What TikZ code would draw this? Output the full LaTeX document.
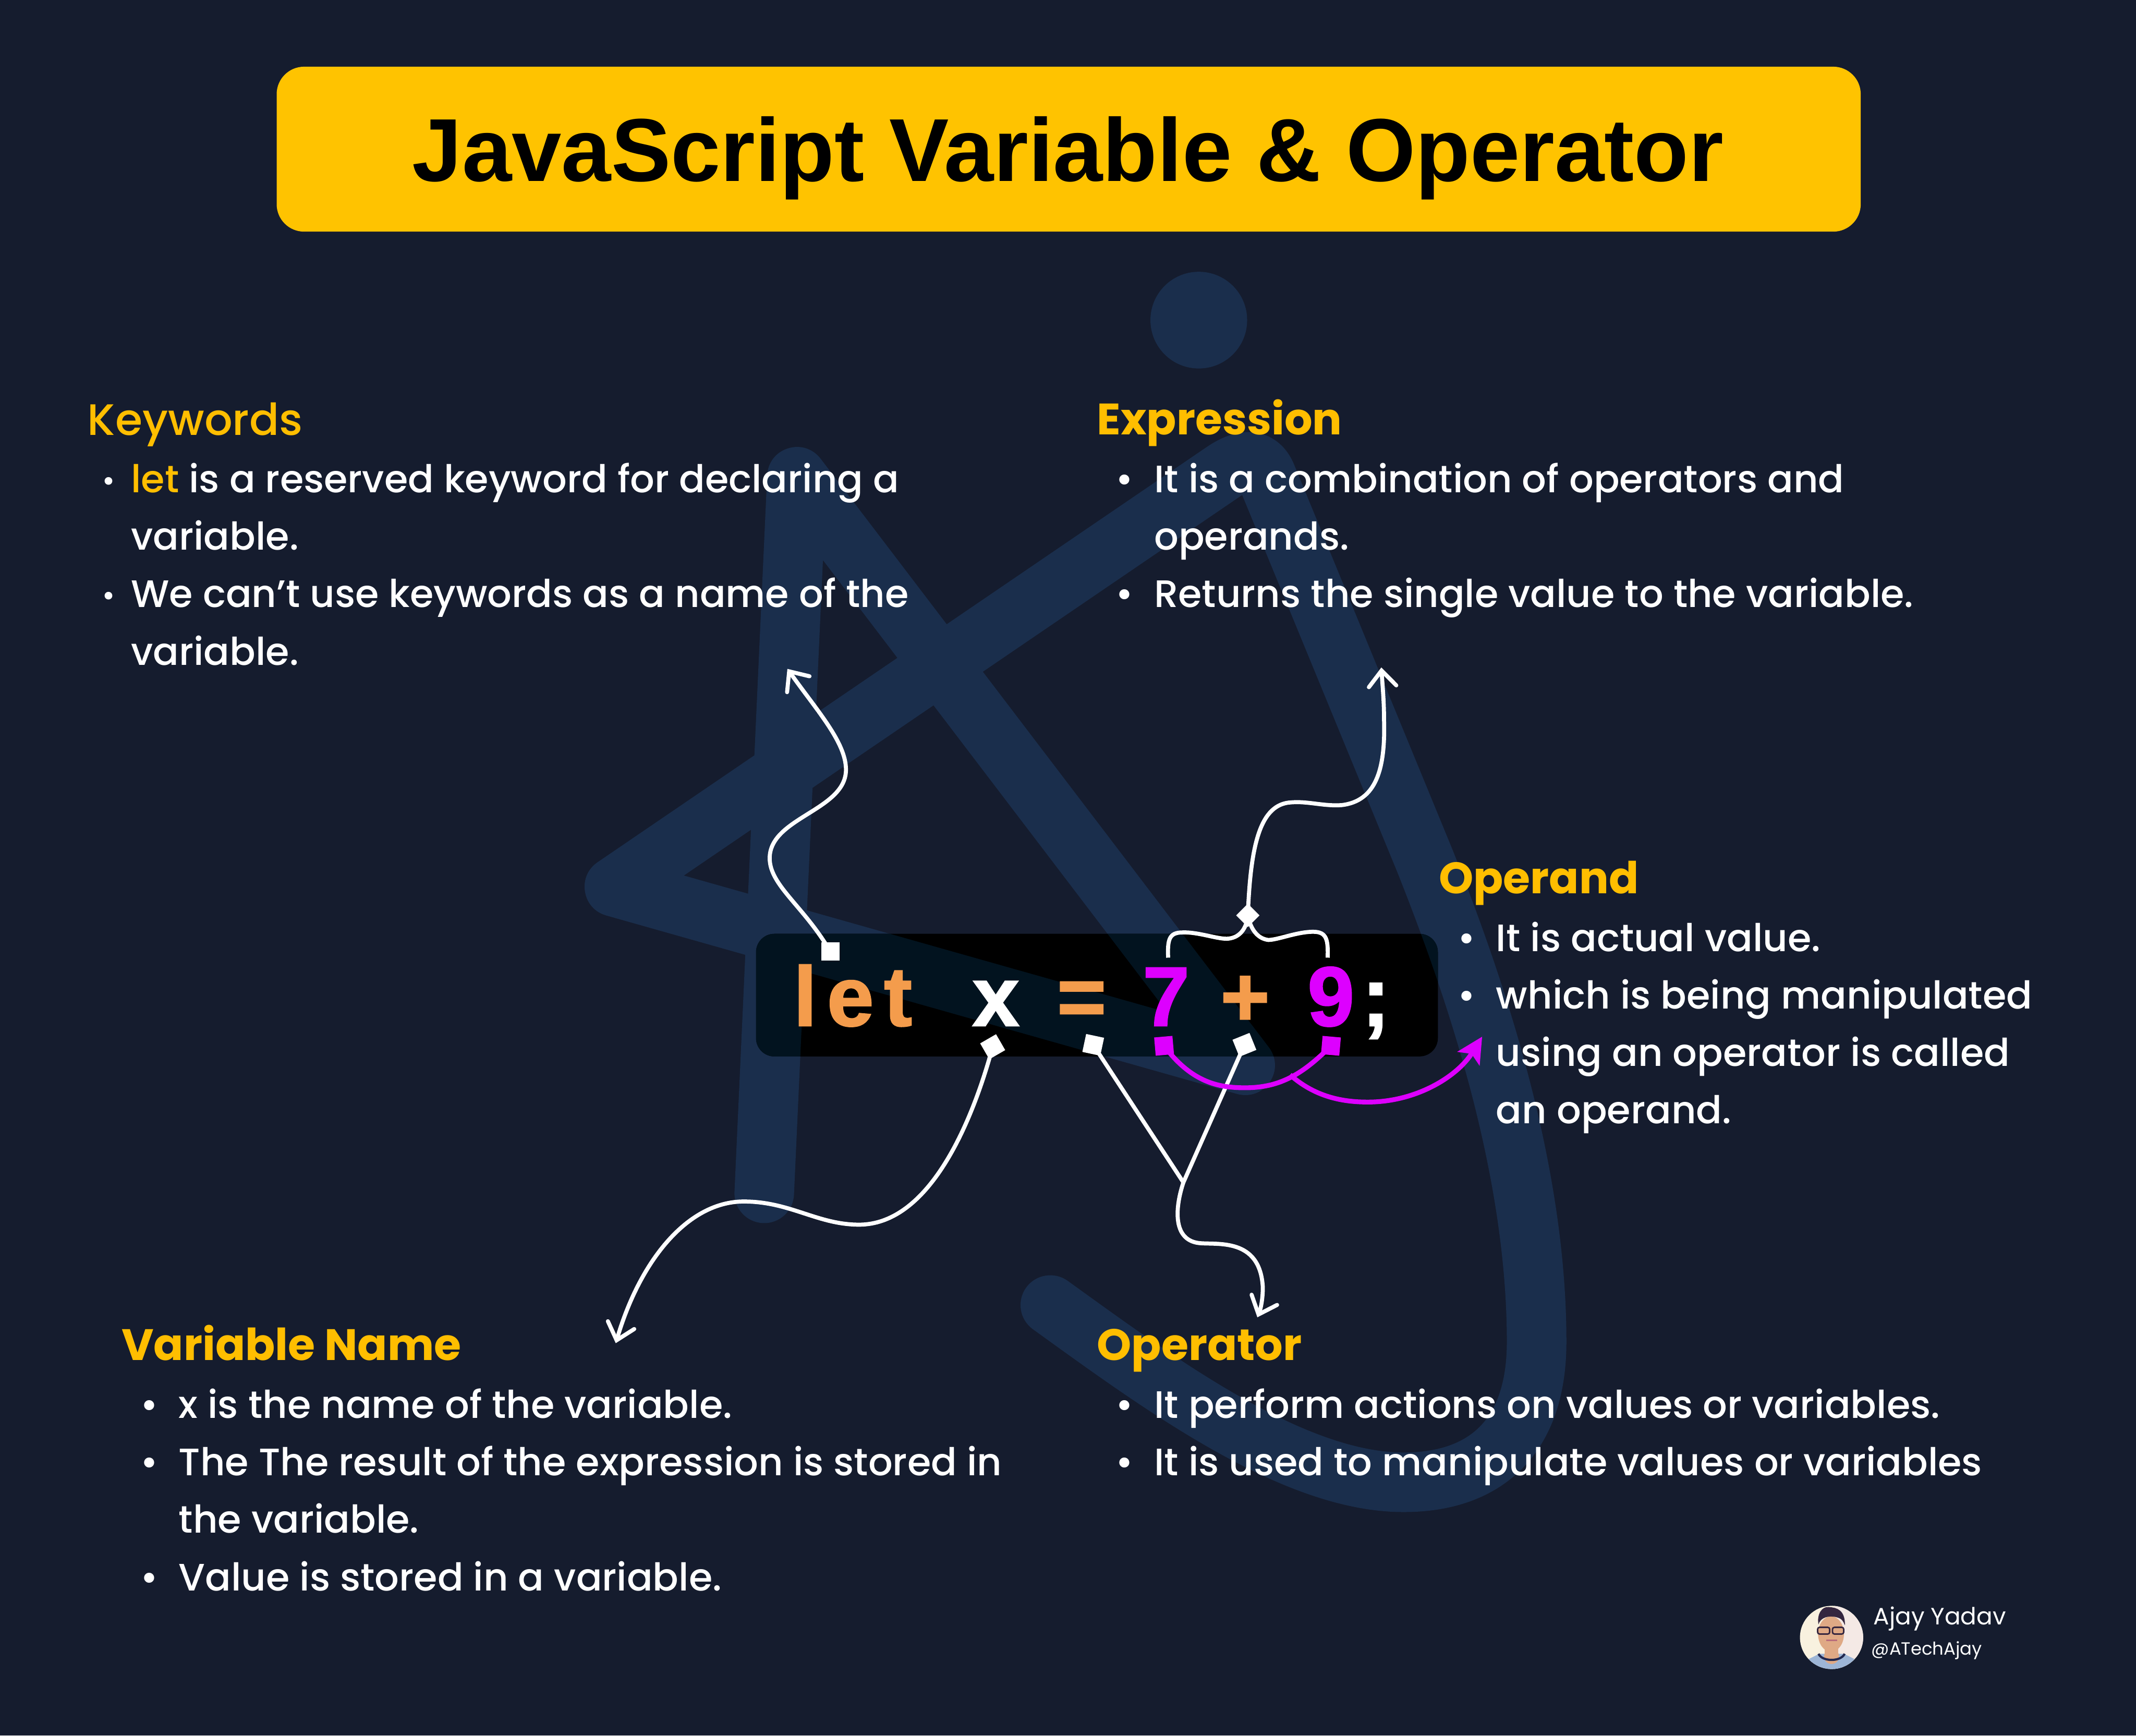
\documentclass[tikz,border=0pt]{standalone}
\usepackage{fontspec}
\usetikzlibrary{arrows.meta}
\setmainfont{Poppins}
\newfontfamily\popmed{Poppins Medium}
\newfontfamily\popsemi{Poppins SemiBold}
\newfontfamily\titlefont{Liberation Sans}
\newfontfamily\codefont{Liberation Sans Bold}[FakeBold=1.6]
\definecolor{bgc}{HTML}{151C2E}
\definecolor{logoc}{HTML}{1A2E4C}
\definecolor{logod}{HTML}{02131F}
\definecolor{titlec}{HTML}{FFC300}
\definecolor{gold}{HTML}{FFBE00}
\definecolor{ora}{HTML}{F49C4C}
\definecolor{mag}{HTML}{DD00FF}
\definecolor{avl}{HTML}{F8F1DF}
\definecolor{avr}{HTML}{F4E9E5}
\definecolor{avshirt}{HTML}{9DB5D6}
\definecolor{avskin}{HTML}{DFA985}
\definecolor{avnavy}{HTML}{222850}
\definecolor{avhair}{HTML}{35263F}
\definecolor{avlip}{HTML}{B86C7A}
\newcommand{\logopath}{(561,876) -- (585,350) -- (914,782) -- (451,651) -- (897,347) .. controls (907,340) and (923,332) .. (930,350) -- (1046,632) .. controls (1085,730) and (1128,860) .. (1128,985) .. controls (1128,1060) and (1085,1090) .. (1025,1088) .. controls (945,1085) and (850,1015) .. (771,958)}
\tikzset{x=0.026122cm,y=-0.026122cm,
 logostroke/.style={line width=32.5pt,line join=round,line cap=round},
 bodytext/.style={anchor=base west,text=white,inner sep=0pt,font=\fontsize{20.87}{20.87}\selectfont\popmed},
 bul/.style={anchor=base,text=white,inner sep=0pt,font=\fontsize{20.87}{20.87}\selectfont\popmed},
 headbold/.style={anchor=base west,text=gold,inner sep=0pt,font=\fontsize{24}{24}\selectfont\bfseries},
 headmed/.style={anchor=base west,text=gold,inner sep=0pt,font=\fontsize{24}{24}\selectfont\popmed},
 codetok/.style={anchor=base,inner sep=0pt,font=\fontsize{46}{46}\selectfont\codefont},
 pin/.style={rectangle,fill=white,inner sep=0pt,minimum size=10pt},
 magpin/.style={rectangle,fill=mag,inner sep=0pt,minimum size=10pt},
 wline/.style={draw=white,line width=2.2pt},
 warrow/.style={wline,-{Straight Barb[length=8.6pt,width=15pt,line cap=round]}},
 mline/.style={draw=mag,line width=2.6pt},
 foot/.style={anchor=base west,text=white,inner sep=0pt}}
\begin{document}
\begin{tikzpicture}
\useasboundingbox (0,0) rectangle (1568,1274);
\fill[bgc] (0,0) rectangle (1568,1274);
% background logo
\draw[logoc,logostroke] \logopath;
\fill[logoc] (880,235) circle (35.5);
% title
\node[rectangle,fill=titlec,rounded corners=15pt,minimum width=864.3pt,minimum height=90pt,inner sep=0pt] (titlebox) at (784.5,109.5) {};
\node[anchor=base,inner sep=0pt,text=black,font=\fontsize{48.75}{48.75}\selectfont\titlefont\bfseries] (titletext) at (784,133) {JavaScript Variable \& Operator};
% code box
\fill[black,rounded corners=10pt] (555,685.5) rectangle (1055.5,775.5);
\begin{scope}
\clip[rounded corners=10pt] (555,685.5) rectangle (1055.5,775.5);
\draw[logod,logostroke] \logopath;
\end{scope}
\node[codetok,text=ora] (clet) at (626,753) {l\kern5.5pt e\kern5.5pt t};
\node[codetok,text=white] (cx) at (731,753) {x};
\node[codetok,text=ora] (ceq) at (794,753) {=};
\node[codetok,text=mag] (cseven) at (856,753) {7};
\node[codetok,text=ora] (cplus) at (914,753) {+};
\node[codetok,text=mag] (cnine) at (977,753) {9};
\node[codetok,text=white] (csemi) at (1010,753) {;};
% Keywords
\node[headmed] (kwh) at (64,319.5) {Keywords};
\node[bul,font=\fontsize{16}{16}\selectfont\popmed] (kwb1) at (80,360.5) {•};
\node[bodytext] (kw1) at (96,361.5) {\textcolor{gold}{let} is a reserved keyword for declaring a};
\node[bodytext] (kw2) at (96,403.7) {variable.};
\node[bul,font=\fontsize{16}{16}\selectfont\popmed] (kwb2) at (80,444.7) {•};
\node[bodytext] (kw3) at (96,445.9) {We can’t use keywords as a name of the};
\node[bodytext] (kw4) at (96,488.1) {variable.};
% Expression
\node[headbold] (exh) at (805,319) {Expression};
\node[bul] (exb1) at (825.5,361.5) {•};
\node[bodytext] (ex1) at (847,361.5) {It is a combination of operators and};
\node[bodytext] (ex2) at (847,403.7) {operands.};
\node[bul] (exb2) at (825.5,445.9) {•};
\node[bodytext] (ex3) at (847,445.9) {Returns the single value to the variable.};
% Operand
\node[headbold] (oph) at (1056,656) {Operand};
\node[bul] (opb1) at (1076.5,698.3) {•};
\node[bodytext] (op1) at (1098,698.3) {It is actual value.};
\node[bul] (opb2) at (1076.5,740.5) {•};
\node[bodytext] (op2) at (1098,740.5) {which is being manipulated};
\node[bodytext] (op3) at (1098,782.7) {using an operator is called};
\node[bodytext] (op4) at (1098,824.9) {an operand.};
% Variable Name
\node[headbold] (vah) at (89,998.7) {Variable Name};
\node[bul] (vab1) at (109.5,1041) {•};
\node[bodytext] (va1) at (131,1041) {x is the name of the variable.};
\node[bul] (vab2) at (109.5,1083.2) {•};
\node[bodytext] (va2) at (131,1083.2) {The The result of the expression is stored in};
\node[bodytext] (va3) at (131,1125.4) {the variable.};
\node[bul] (vab3) at (109.5,1167.6) {•};
\node[bodytext] (va4) at (131,1167.6) {Value is stored in a variable.};
% Operator
\node[headbold] (orh) at (805,998.7) {Operator};
\node[bul] (orb1) at (825.5,1041) {•};
\node[bodytext] (or1) at (847,1041) {It perform actions on values or variables.};
\node[bul] (orb2) at (825.5,1083.2) {•};
\node[bodytext] (or2) at (847,1083.2) {It is used to manipulate values or variables};
% pins
\node[pin] (plet) at (609.5,698.5) {};
\node[pin,rotate=45,minimum size=9pt] (pbrace) at (916,672) {};
\node[pin,rotate=30] (px) at (728.7,768.4) {};
\node[pin,rotate=-12] (peq) at (802.5,767) {};
\node[pin,rotate=22] (pplus) at (913.5,767) {};
\node[magpin,rotate=5] (pseven) at (854.5,767.7) {};
\node[magpin,rotate=-5] (pnine) at (977,767.7) {};
% free ends
\coordinate (kwtip) at (578,491);
\coordinate (extip) at (1014,490);
\coordinate (vatip) at (452,986);
\coordinate (ortip) at (923,967);
\coordinate (ortee) at (868.7,868);
\coordinate (bl) at (857.5,703);
\coordinate (br) at (974.6,703);
\coordinate (mtee) at (947,789);
\coordinate (mtip) at (1088,761);
% white connectors
\draw[warrow] (plet.center) .. controls (590,665) and (565,650) .. (565,630) .. controls (565,600) and (621,595) .. (621,565) .. controls (621,545) and (600,522) .. (kwtip);
\draw[warrow] (pbrace.center) .. controls (918,620) and (925,590) .. (948,589) .. controls (960,588) and (972,592) .. (985,591) .. controls (1010,588) and (1017,565) .. (1016,529) .. controls (1016,515) and (1015,505) .. (extip);
\draw[wline] (bl) .. controls (857,690) and (858,684.5) .. (868,684.5) .. controls (880,684) and (895,690) .. (902,689) .. controls (910,688) and (915,682) .. (pbrace.center);
\draw[wline] (br) .. controls (975,690) and (974,684) .. (964,684) .. controls (952,684) and (938,690) .. (931,690) .. controls (923,689) and (918,682) .. (pbrace.center);
\draw[warrow] (px.center) .. controls (712,830) and (680,899) .. (630.6,899) .. controls (600,899) and (580,882) .. (546,882) .. controls (505,882) and (470,925) .. (vatip);
\draw[wline] (peq.center) -- (ortee);
\draw[warrow] (pplus.center) -- (ortee) .. controls (863,885) and (860,910) .. (880,912.5) .. controls (893,914) and (925,908) .. (927,945) .. controls (927,955) and (925,962) .. (ortip);
% magenta connectors
\draw[mline] (pseven.center) .. controls (875,795) and (895,798.5) .. (914,798.5) .. controls (938,798.5) and (955,790) .. (pnine.center);
\draw[mline,-{Stealth[length=14pt,width=14pt,inset=3pt]}] (mtee) .. controls (965,805) and (985,809) .. (1004,809) .. controls (1040,809) and (1070,790) .. (mtip);
% avatar
\begin{scope}[shift={(1344.5,1202)}]
\clip (0,0) circle (23.2);
\fill[avl] (-24,-24) rectangle (24,24);
\fill[avr] (2,-24) rectangle (24,24);
\fill[avshirt] (-22,24) -- (-17,16) -- (-9,12) -- (9,12) -- (17,16) -- (22,24) -- cycle;
\fill[avskin] (-5,3) rectangle (5,14);
\fill[avskin] (0,14) circle (5.5);
\draw[avnavy,line width=1.2pt] (-9.6,12) .. controls (-7,18) and (7,18) .. (9.6,12);
\fill[avskin] (-0.4,-2.5) ellipse (9.5 and 13);
\fill[avhair] (-9.6,-9.5) .. controls (-11,-17) and (-7,-23) .. (-2,-22.3) .. controls (4,-22) and (10,-20) .. (9.8,-9) .. controls (8,-13) and (7,-14) .. (3,-15) .. controls (-2,-16) and (-8,-15) .. cycle;
\draw[avhair,line width=0.8pt,rounded corners=1pt] (-10.2,-7.4) rectangle (-1.4,-2.5);
\draw[avhair,line width=0.8pt,rounded corners=1pt] (0.7,-7.4) rectangle (8.9,-2.5);
\draw[avlip,line width=1pt] (-4,2.2) -- (4,2.2);
\end{scope}
\node[foot,font=\fontsize{12.9}{12.9}\selectfont] (fname) at (1375,1192.5) {Ajay Yadav};
\node[foot,font=\fontsize{9.65}{9.65}\selectfont] (fhandle) at (1373.5,1215) {@ATechAjay};
\end{tikzpicture}
\end{document}
